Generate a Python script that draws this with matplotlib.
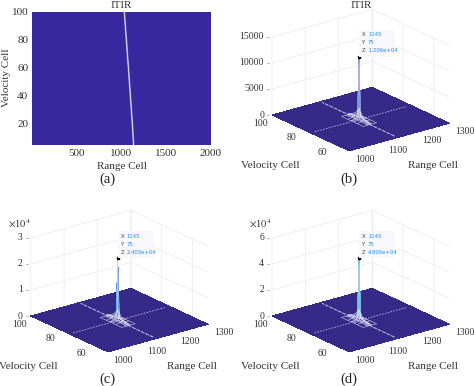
import matplotlib
matplotlib.use("Agg")
import matplotlib.pyplot as plt
import numpy as np
from matplotlib.colors import LinearSegmentedColormap
from matplotlib.patches import Rectangle
from mpl_toolkits.mplot3d import proj3d

plt.rcParams['font.family'] = ['Liberation Serif', 'DejaVu Sans']

W, H = 474, 386

# panel (a): ridge of the range/velocity map
ridge_velocity = [100, 60, 20, 5]
ridge_range = [1032, 1078, 1122, 1136]
map_xticks = [500, 1000, 1500, 2000]
map_yticks = [20, 40, 60, 80, 100]

# panels (b)-(d): grid around the peak, 1000-1300 range and 50-100 velocity
grid_range = [1000, 1125, 1138, 1142, 1144, 1145, 1146, 1148, 1152, 1165, 1300]
grid_velocity = [50, 68, 72, 74, 75, 76, 78, 82, 100]
# share of the peak height on the grid, rows follow grid_velocity
peak_shape = [
    [0, 0, 0, 0, 0, 0, 0, 0, 0, 0, 0],
    [0, 0, 0, 0, 0.01, 0.02, 0.01, 0, 0, 0, 0],
    [0, 0, 0.01, 0.02, 0.03, 0.05, 0.03, 0.02, 0.01, 0, 0],
    [0, 0, 0.01, 0.03, 0.07, 0.14, 0.07, 0.03, 0.01, 0, 0],
    [0, 0.01, 0.02, 0.05, 0.18, 1.00, 0.18, 0.05, 0.02, 0.01, 0],
    [0, 0, 0.01, 0.03, 0.07, 0.14, 0.07, 0.03, 0.01, 0, 0],
    [0, 0, 0.01, 0.02, 0.03, 0.05, 0.03, 0.02, 0.01, 0, 0],
    [0, 0, 0, 0, 0.01, 0.02, 0.01, 0, 0, 0, 0],
    [0, 0, 0, 0, 0, 0, 0, 0, 0, 0, 0],
]

# cross lines on the floor
cross_range = [1012, 1285]
cross_velocity = [52, 99]
peak_x, peak_y = 1145, 75

# one entry per panel
peaks = [12060, 24030, 48060]
z_tops = [15000, 30000, 60000]
z_ticks = [[0, 5000, 10000, 15000], [0, 10000, 20000, 30000], [0, 20000, 40000, 60000]]
z_labels = [['0', '5000', '10000', '15000'], ['0', '1', '2', '3'], ['0', '2', '4', '6']]
tip_z = ['1.206e+04', '2.403e+04', '4.806e+04']
panel_letters = ['(b)', '(c)', '(d)']
letter_pos = [(349, 179), (107.7, 379), (349, 379)]
# left corner of the floor in each panel, pixels from the top left
floor_left = [(272, 115), (30.7, 316), (272, 316)]
x_ticks = [1000, 1100, 1200, 1300]
y_ticks = [60, 80, 100]

parula = LinearSegmentedColormap.from_list(
    'parula', ['#352a87', '#0f5cdd', '#1481d6', '#06a4ca', '#2eb7a4', '#87bf77', '#d1bb59', '#fec832', '#f9fb0e'])
floor_color = '#38289f'
text_color = '#333333'

fig = plt.figure(figsize=(W / 100, H / 100), dpi=100)


def to_px(ax, x, y, z):
    xs, ys, _ = proj3d.proj_transform(x, y, z, ax.get_proj())
    px, py = ax.transData.transform((xs, ys))
    return px, H - py


def put(px, py, s, size=7, **kw):
    kw.setdefault('color', text_color)
    kw.setdefault('ha', 'center')
    kw.setdefault('va', 'center')
    fig.text(px / W, 1 - py / H, s, fontsize=size, **kw)


def fit_box(ax, z_top):
    # floor 177 px wide, walls 78 px high
    zoom, h = 1.2, 0.7
    for _ in range(5):
        ax.set_box_aspect((1, 1, h), zoom=zoom)
        ax.apply_aspect()
        left = to_px(ax, 1000, 100, 0)
        right = to_px(ax, 1300, 50, 0)
        up = to_px(ax, 1000, 100, z_top)
        zoom *= 177 / (right[0] - left[0])
        h *= 78 / (left[1] - up[1])
    ax.set_box_aspect((1, 1, h), zoom=zoom)
    ax.apply_aspect()


# panel (a)
ax = fig.add_axes([32.3 / W, 1 - 144.7 / H, 178.4 / W, 133 / H])
ax.set_facecolor(floor_color)
ax.plot(ridge_range, ridge_velocity, color='#7f7fc8', lw=1.3)
ax.plot(ridge_range, ridge_velocity, color='#e8e8e0', lw=0.6)
ax.set_xlim(1, 2000)
ax.set_ylim(5, 100)
ax.set_xticks(map_xticks)
ax.set_yticks(map_yticks)
ax.tick_params(length=0, labelsize=8, labelcolor=text_color, pad=3)
for s in ax.spines.values():
    s.set_visible(False)
put(121.7, 166.7, 'Range Cell', 8)
put(6.7, 78, 'Velocity Cell', 8, rotation=90)
put(121.7, 5.5, 'ITIR', 8)
put(107.7, 179, '(a)', 10.5, color='#222222')

# panels (b)-(d)
X, Y = np.meshgrid(grid_range, grid_velocity)
shape = np.array(peak_shape)
for i in range(3):
    ax = fig.add_axes([0.2, 0.2, 237 / W, 193 / H], projection='3d', proj_type='ortho', computed_zorder=False)
    ax.patch.set_alpha(0)
    ax.view_init(elev=21, azim=-127.6)
    ax.set_xlim(1000, 1300)
    ax.set_ylim(50, 100)
    ax.set_zlim(0, z_tops[i])
    fit_box(ax, z_tops[i])

    # move the axes so that the floor lands where the reference has it
    lx, ly = to_px(ax, 1000, 100, 0)
    pos = ax.get_position()
    ax.set_position([pos.x0 + (floor_left[i][0] - lx) / W, pos.y0 - (floor_left[i][1] - ly) / H,
                     pos.width, pos.height])
    ax.apply_aspect()

    Z = shape * peaks[i]
    ax.plot_surface(X, Y, Z, cmap=parula, vmin=0, vmax=peaks[2], rstride=1, cstride=1,
                    linewidth=0, antialiased=False, shade=False)
    ax.plot_wireframe(X[1:-1, 1:-1], Y[1:-1, 1:-1], Z[1:-1, 1:-1], color='#e6e6f6', linewidth=0.35)
    ax.plot(cross_range, [peak_y, peak_y], [0, 0], color='#b9b6e4', lw=0.6, ls=(0, (2, 1.5)))
    ax.plot([peak_x, peak_x], cross_velocity, [0, 0], color='#c4c2ea', lw=0.7, ls=(0, (4, 1)))
    ax.plot([peak_x], [peak_y], [peaks[i]], 's', color='black', ms=1.8)

    ax.set_xticks(x_ticks)
    ax.set_yticks(y_ticks)
    ax.set_zticks(z_ticks[i])
    ax.set_xticklabels([])
    ax.set_yticklabels([])
    ax.set_zticklabels([])
    for a in (ax.xaxis, ax.yaxis, ax.zaxis):
        a.set_pane_color((1, 1, 1, 0))
        a.line.set_color((1, 1, 1, 0))
        a._axinfo['grid']['color'] = '#e9e9e9'
        a._axinfo['grid']['linewidth'] = 0.5
        a._axinfo['tick']['inward_factor'] = 0
        a._axinfo['tick']['outward_factor'] = 0
    ax.zaxis.set_ticks_position('lower')

    for v in x_ticks:
        px, py = to_px(ax, v, 50, 0)
        put(px + 15.5, py + 8.5, str(v))
    for v in y_ticks:
        px, py = to_px(ax, 1000, v, 0)
        put(px - 11.5, py + 8.5, str(v))
    for v, lab in zip(z_ticks[i], z_labels[i]):
        px, py = to_px(ax, 1000, 100, v)
        put(px - 8, py, lab, ha='right')
        fig.add_artist(plt.Line2D([(px - 5) / W, (px - 3) / W], [1 - py / H, 1 - py / H], color='#999999', lw=0.5))

    lx, ly = to_px(ax, 1000, 100, 0)
    rx, ry = to_px(ax, 1300, 50, 0)
    put(lx - 2, ly + 50, 'Velocity Cell', 8)
    put(rx - 16, ry + 42, 'Range Cell', 8)
    put(*letter_pos[i], panel_letters[i], 10.5, color='#222222')
    if i == 0:
        put(361, 5.5, 'ITIR', 8)
    else:
        put(lx - 23, ly - 92, r'$\times 10^4$', 7.5, ha='left', math_fontfamily='stix')

    # data tip
    tx, ty = to_px(ax, peak_x, peak_y, peaks[i])
    fig.add_artist(Rectangle((tx / W, 1 - ty / H), 36 / W, 27 / H, transform=fig.transFigure,
                             facecolor='#f7f7fc', edgecolor='none', zorder=0.5))
    for k, (name, val) in enumerate([('X', '1145'), ('Y', '75'), ('Z', tip_z[i])]):
        py = ty - 22 + k * 8
        put(tx + 3, py, name, 3.8, ha='left', color='#444444', family='DejaVu Sans')
        put(tx + 9, py, val, 3.8, ha='left', color='#1a8cff', family='DejaVu Sans')

fig.savefig('out.png', dpi=100)
